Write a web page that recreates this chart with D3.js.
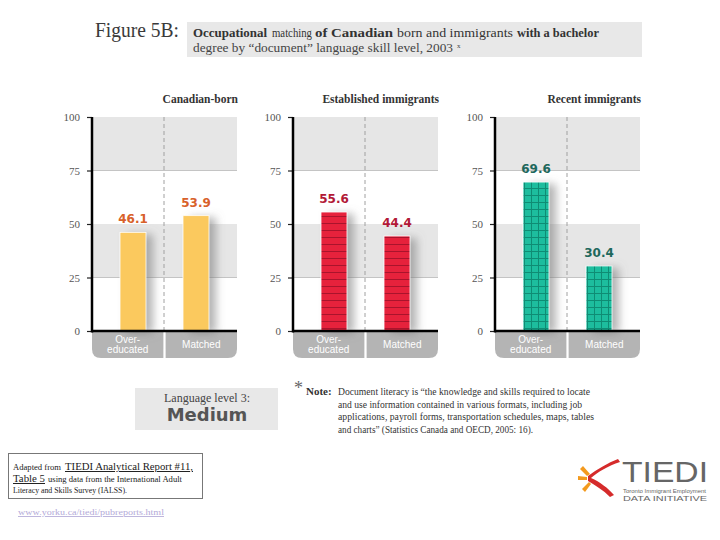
<!DOCTYPE html>
<html><head><meta charset="utf-8">
<script src="https://cdn.jsdelivr.net/npm/d3@7"></script>
<style>body{margin:0;background:#fff}svg{display:block}</style>
</head><body>
<script>
const groups = ["Canadian-born", "Established immigrants", "Recent immigrants"];
const categories = ["Over-educated", "Matched"];
const canadianBorn = [46.1, 53.9];
const establishedImmigrants = [55.6, 44.4];
const recentImmigrants = [69.6, 30.4];
const seriesValues = [canadianBorn, establishedImmigrants, recentImmigrants];
const tickValues = [0, 25, 50, 75, 100];
const categoryLabels = [["Over-", "educated"], ["Matched"]];

const W = 720, H = 540;
const svg = d3.select("body").append("svg").attr("width", W).attr("height", H);
const defs = svg.append("defs");

const pr = defs.append("pattern").attr("id", "pRed").attr("patternUnits", "userSpaceOnUse")
  .attr("width", 8).attr("height", 7);
pr.append("rect").attr("width", 8).attr("height", 7).attr("fill", "#E6223C");
pr.append("line").attr("x1", 0).attr("x2", 8).attr("y1", 6.5).attr("y2", 6.5).attr("stroke", "#A9142C").attr("stroke-width", 1);
const pt = defs.append("pattern").attr("id", "pTeal").attr("patternUnits", "userSpaceOnUse")
  .attr("width", 7).attr("height", 7);
pt.append("rect").attr("width", 7).attr("height", 7).attr("fill", "#1DBD9E");
pt.append("path").attr("d", "M0,6.5H7M6.5,0V7").attr("stroke", "#0F8C74").attr("stroke-width", 1).attr("fill", "none");
const sh = defs.append("filter").attr("id", "shadow").attr("x", "-50%").attr("y", "-20%").attr("width", "220%").attr("height", "140%");
sh.append("feDropShadow").attr("dx", 7).attr("dy", 2).attr("stdDeviation", 4).attr("flood-color", "#777").attr("flood-opacity", 0.55);

const serif = "'Liberation Serif','DejaVu Serif',serif";
const sans = "'Liberation Sans',Arial,sans-serif";

// Title
svg.append("text").attr("x", 95).attr("y", 37).attr("font-family", serif).attr("font-size", 20)
  .attr("fill", "#3a3a3a").attr("textLength", 84).attr("lengthAdjust", "spacingAndGlyphs").text("Figure 5B:");
svg.append("rect").attr("x", 187).attr("y", 22).attr("width", 455).attr("height", 35).attr("fill", "#E8E8E8");
const titleParts = [
  ["Occupational", 193, 74, "bold"],
  ["matching", 272, 40, "normal"],
  ["of Canadian", 315, 78, "bold"],
  ["born and immigrants", 397, 116, "normal"],
  ["with a bachelor", 517, 82, "bold"]
];
titleParts.forEach(([t, x, w, fw]) => {
  svg.append("text").attr("x", x).attr("y", 37).attr("font-family", serif).attr("font-size", 12.5)
    .attr("font-weight", fw).attr("fill", "#333").attr("textLength", w).attr("lengthAdjust", "spacingAndGlyphs").text(t);
});
svg.append("text").attr("x", 193).attr("y", 52).attr("font-family", serif).attr("font-size", 12.5)
  .attr("fill", "#444").attr("textLength", 260).attr("lengthAdjust", "spacingAndGlyphs")
  .text("degree by \u201cdocument\u201d language skill level, 2003");
svg.append("text").attr("x", 457).attr("y", 47.5).attr("font-family", serif).attr("font-size", 7)
  .attr("fill", "#444").text("x");

// Panels
const y = d3.scaleLinear().domain([0, 100]).range([331, 117]);
const axisXs = [92, 293, 495];
const panelW = 145;
const fills = ["#FBC95E", "url(#pRed)", "url(#pTeal)"];
const labelColors = ["#D8612A", "#B21937", "#1E685C"];

groups.forEach((g, i) => {
  const x0 = axisXs[i];
  const gp = svg.append("g");
  const xb = d3.scalePoint().domain(categories).range([x0 + 41, x0 + 104]);
  const xbox = d3.scaleBand().domain(categories).range([x0, x0 + panelW]).paddingInner(0.03);
  [[100, 75], [50, 25]].forEach(([a, b]) => {
    gp.append("rect").attr("x", x0).attr("width", panelW).attr("y", y(a)).attr("height", y(b) - y(a)).attr("fill", "#E6E6E6");
  });
  [75, 25].forEach(v => {
    gp.append("line").attr("x1", x0).attr("x2", x0 + panelW).attr("y1", y(v)).attr("y2", y(v)).attr("stroke", "#C4C4C4").attr("stroke-width", 1);
  });
  gp.append("line").attr("x1", x0 + 72).attr("x2", x0 + 72).attr("y1", y(100)).attr("y2", y(0))
    .attr("stroke", "#A0A0A0").attr("stroke-dasharray", "4,3").attr("stroke-width", 1);
  categories.forEach((c, j) => {
    const bx = xbox(c), bw = xbox.bandwidth(), by = y(0), bh = 27, r = 9;
    let d;
    if (j === 0) d = `M${bx},${by}H${bx + bw}V${by + bh}H${bx + r}Q${bx},${by + bh} ${bx},${by + bh - r}Z`;
    else d = `M${bx},${by}H${bx + bw}V${by + bh - r}Q${bx + bw},${by + bh} ${bx + bw - r},${by + bh}H${bx}Z`;
    gp.append("path").attr("d", d).attr("fill", "#B4B4B4");
    const lines = categoryLabels[j];
    lines.forEach((ln, k) => {
      gp.append("text").attr("x", bx + bw / 2).attr("y", lines.length === 1 ? by + 17 : by + 12 + k * 10)
        .attr("text-anchor", "middle").attr("font-family", sans).attr("font-size", 10)
        .attr("fill", "#fff").text(ln);
    });
  });
  const bw = 26;
  seriesValues[i].forEach((v, j) => {
    const cx = xb(categories[j]);
    gp.append("rect").attr("x", cx - bw / 2).attr("width", bw).attr("y", y(v)).attr("height", y(0) - y(v))
      .attr("fill", fills[i]).attr("filter", "url(#shadow)");
    gp.append("rect").attr("x", cx - bw / 2).attr("width", bw).attr("y", y(v)).attr("height", y(0) - y(v))
      .attr("fill", fills[i]).attr("stroke", "#fff").attr("stroke-width", 0.8);
    gp.append("text").attr("x", cx).attr("y", y(v) - 9).attr("text-anchor", "middle")
      .attr("font-family", "'DejaVu Sans',Verdana,sans-serif").attr("font-weight", "bold").attr("font-size", 12)
      .attr("fill", labelColors[i]).text(v.toFixed(1));
  });
  const ax = gp.append("g").attr("transform", `translate(${x0},0)`)
    .call(d3.axisLeft(y).tickValues(tickValues).tickSize(5).tickPadding(7));
  ax.select(".domain").remove();
  ax.selectAll(".tick line").attr("stroke", "#222").attr("stroke-width", 1.2);
  ax.selectAll(".tick text").attr("font-family", serif).attr("font-size", 11).attr("fill", "#555");
  gp.append("line").attr("x1", x0).attr("x2", x0).attr("y1", y(100)).attr("y2", y(0) + 1.5)
    .attr("stroke", "#000").attr("stroke-width", 2.5);
  gp.append("line").attr("x1", x0).attr("x2", x0 + panelW).attr("y1", y(0)).attr("y2", y(0))
    .attr("stroke", "#000").attr("stroke-width", 2.5);
  gp.append("text").attr("x", x0 + panelW + 1).attr("y", 103).attr("text-anchor", "end")
    .attr("font-family", serif).attr("font-weight", "bold").attr("font-size", 11.5).attr("fill", "#333").text(g);
});

// Language level box
svg.append("rect").attr("x", 135).attr("y", 388).attr("width", 143).attr("height", 42).attr("fill", "#E8E8E8");
svg.append("text").attr("x", 207).attr("y", 402).attr("text-anchor", "middle").attr("font-family", serif)
  .attr("font-size", 12).attr("fill", "#444").text("Language level 3:");
svg.append("text").attr("x", 207).attr("y", 421).attr("text-anchor", "middle").attr("font-family", "'DejaVu Sans',Verdana,sans-serif")
  .attr("font-weight", "bold").attr("font-size", 18).attr("fill", "#555").text("Medium");

// Note
svg.append("text").attr("x", 294).attr("y", 394).attr("font-family", serif).attr("font-size", 18).attr("fill", "#666").text("*");
svg.append("text").attr("x", 306).attr("y", 395).attr("font-family", serif).attr("font-weight", "bold").attr("font-size", 11).attr("fill", "#333").text("Note:");
const noteLines = [
  "Document literacy is \u201cthe knowledge and skills required to locate",
  "and use information contained in various formats, including job",
  "applications, payroll forms, transportation schedules, maps, tables",
  "and charts\u201d (Statistics Canada and OECD, 2005: 16)."
];
const noteLens = [252, 244, 256, 195];
noteLines.forEach((ln, k) => {
  svg.append("text").attr("x", 338).attr("y", 395 + k * 12.7).attr("font-family", serif).attr("font-size", 10.5)
    .attr("fill", "#333").attr("textLength", noteLens[k]).attr("lengthAdjust", "spacingAndGlyphs").text(ln);
});

// Source box
svg.append("rect").attr("x", 8.5).attr("y", 453.5).attr("width", 194).attr("height", 45).attr("fill", "#fff").attr("stroke", "#777");
const srcParts = [
  ["Adapted from", 13, 470, 48, 8, false],
  ["TIEDI Analytical Report #11,", 65, 470, 128, 10, true],
  ["Table 5", 13, 482, 32, 10, true],
  ["using data from the International Adult", 48, 482, 134, 8, false],
  ["Literacy and Skills Survey (IALSS).", 13, 493, 114, 8, false]
];
srcParts.forEach(([t, x, yy, w, fs, ul]) => {
  svg.append("text").attr("x", x).attr("y", yy).attr("font-family", serif).attr("font-size", fs).attr("fill", "#222")
    .attr("text-decoration", ul ? "underline" : null).attr("textLength", w).attr("lengthAdjust", "spacingAndGlyphs").text(t);
});
svg.append("text").attr("x", 18).attr("y", 515).attr("font-family", serif).attr("font-size", 8.5).attr("fill", "#B3AAD8")
  .attr("text-decoration", "underline").attr("textLength", 146).attr("lengthAdjust", "spacingAndGlyphs")
  .text("www.yorku.ca/tiedi/pubreports.html");

// Logo
const lg = svg.append("g");
lg.append("path").attr("d", "M620,462 C608,466 598,472 591,478 C600,482 608,488 614,495 L610,497 C603,490 595,485 588,481 L588,476 C597,469 608,463 618,459Z").attr("fill", "#D52B2B");
lg.append("path").attr("d", "M583,466 L590,474 L587,476 L580,469Z").attr("fill", "#F39A1E");
lg.append("path").attr("d", "M578,476 L587,477 L587,480 L578,480Z").attr("fill", "#F39A1E");
lg.append("path").attr("d", "M582,489 L589,482 L591,484 L585,492Z").attr("fill", "#F39A1E");
lg.append("text").attr("x", 622).attr("y", 482).attr("font-family", sans)
  .attr("font-size", 30).attr("fill", "#666").attr("textLength", 86).attr("lengthAdjust", "spacingAndGlyphs").text("TIEDI");
lg.append("text").attr("x", 623).attr("y", 493).attr("font-family", sans).attr("font-size", 5).attr("fill", "#666")
  .attr("textLength", 83).attr("lengthAdjust", "spacingAndGlyphs").text("Toronto Immigrant Employment");
lg.append("text").attr("x", 623).attr("y", 501).attr("font-family", sans).attr("font-size", 8).attr("fill", "#666")
  .attr("textLength", 84).attr("lengthAdjust", "spacingAndGlyphs").text("DATA INITIATIVE");
</script>
</body></html>
